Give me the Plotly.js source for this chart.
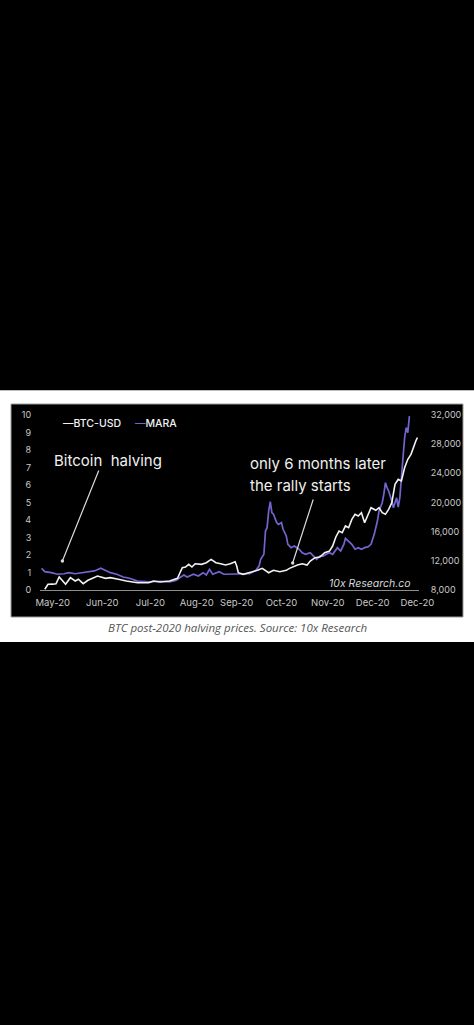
<!DOCTYPE html>
<html>
<head>
<meta charset="utf-8">
<script src="https://cdn.plot.ly/plotly-3.0.1.min.js"></script>
<style>
  html, body { margin: 0; padding: 0; background: #000; width: 474px; height: 1025px; overflow: hidden; }
  #band { position: absolute; left: 0; top: 390px; width: 474px; height: 251px; background: #fff; border-top: 1px solid #bbb; box-sizing: border-box; }
  #chart { position: absolute; left: 0; top: 0; width: 474px; height: 251px; }
</style>
</head>
<body>
<div id="band"><div id="chart"></div></div>
<script>
// ---- Data ----
const btcDates = ['2020-05-12','2020-05-14','2020-05-17','2020-05-19','2020-05-21','2020-05-25','2020-05-28','2020-05-31','2020-06-02','2020-06-05','2020-06-08','2020-06-13','2020-06-14','2020-06-19','2020-06-22','2020-06-27','2020-07-02','2020-07-09','2020-07-16','2020-07-19','2020-07-23','2020-07-29','2020-08-03','2020-08-05','2020-08-06','2020-08-08','2020-08-10','2020-08-12','2020-08-14','2020-08-18','2020-08-21','2020-08-24','2020-08-27','2020-08-30','2020-09-02','2020-09-05','2020-09-08','2020-09-09','2020-09-10','2020-09-13','2020-09-17','2020-09-22','2020-09-25','2020-09-29','2020-10-02','2020-10-06','2020-10-10','2020-10-12','2020-10-17','2020-10-20','2020-10-23','2020-10-25','2020-10-28','2020-10-31','2020-11-03','2020-11-06','2020-11-08','2020-11-10','2020-11-12','2020-11-14','2020-11-16','2020-11-18','2020-11-20','2020-11-22','2020-11-24','2020-11-26','2020-11-28','2020-11-30','2020-12-02','2020-12-05','2020-12-07','2020-12-09','2020-12-11','2020-12-13','2020-12-15','2020-12-17','2020-12-19','2020-12-21','2020-12-23','2020-12-25','2020-12-27','2020-12-30','2020-12-31'];
const btcUsd = [8100,8780,8800,8850,9780,8780,9690,9230,9470,8870,9330,9780,9920,9600,9690,9470,9230,9000,9000,9230,9100,9230,9600,10600,11060,11150,11520,11150,11600,11520,11750,12200,11750,11600,11430,11600,11880,11290,10370,10150,10370,10700,10970,10370,10700,10510,10700,10970,11430,11600,11430,11980,12430,12520,13110,13340,14030,15270,16090,15860,16780,16540,17690,18380,18150,18600,17230,18380,19290,18930,19290,18600,18380,19060,19970,22490,23180,22950,24770,25920,26600,28430,28890];

const maraDates = ['2020-05-10','2020-05-12','2020-05-16','2020-05-20','2020-05-24','2020-05-27','2020-05-31','2020-06-04','2020-06-08','2020-06-12','2020-06-16','2020-06-19','2020-06-22','2020-06-26','2020-06-30','2020-07-04','2020-07-09','2020-07-16','2020-07-23','2020-07-29','2020-08-02','2020-08-05','2020-08-07','2020-08-09','2020-08-13','2020-08-16','2020-08-19','2020-08-21','2020-08-23','2020-08-25','2020-08-29','2020-09-01','2020-09-05','2020-09-09','2020-09-13','2020-09-17','2020-09-21','2020-09-23','2020-09-24','2020-09-26','2020-09-27','2020-09-28','2020-09-29','2020-09-30','2020-10-01','2020-10-02','2020-10-04','2020-10-05','2020-10-07','2020-10-08','2020-10-10','2020-10-11','2020-10-13','2020-10-15','2020-10-18','2020-10-20','2020-10-22','2020-10-25','2020-10-27','2020-10-29','2020-10-31','2020-11-02','2020-11-04','2020-11-06','2020-11-08','2020-11-11','2020-11-13','2020-11-15','2020-11-16','2020-11-18','2020-11-20','2020-11-22','2020-11-24','2020-11-26','2020-11-28','2020-11-30','2020-12-02','2020-12-04','2020-12-06','2020-12-07','2020-12-09','2020-12-10','2020-12-11','2020-12-12','2020-12-13','2020-12-15','2020-12-16','2020-12-18','2020-12-19','2020-12-20','2020-12-21','2020-12-22','2020-12-23','2020-12-24','2020-12-25','2020-12-26'];
const mara = [1.24,1.05,0.99,0.90,0.93,0.99,0.93,0.99,1.05,1.09,1.24,1.13,0.99,0.90,0.74,0.67,0.51,0.47,0.50,0.47,0.55,0.74,0.86,0.74,0.90,0.80,0.99,0.86,1.18,0.90,1.05,0.90,0.90,0.90,0.90,0.93,1.13,1.37,1.75,2.04,3.37,3.56,4.51,5.05,4.42,4.33,3.85,3.75,3.85,3.47,3.09,2.61,2.42,2.51,2.33,2.13,2.04,2.13,1.94,1.75,1.94,1.94,2.04,2.13,2.04,2.42,2.23,2.60,2.95,2.80,2.61,2.33,2.42,2.33,2.42,2.46,2.61,3.18,3.94,4.51,4.99,5.47,6.13,5.85,5.66,5.09,4.70,5.27,4.74,5.27,6.23,7.56,8.70,9.28,8.99,9.94];

const xTickVals = ['2020-05-17','2020-06-17','2020-07-17','2020-08-15','2020-09-09','2020-10-07','2020-11-05','2020-12-03','2020-12-31'];
const xTickText = ['May-20','Jun-20','Jul-20','Aug-20','Sep-20','Oct-20','Nov-20','Dec-20','Dec-20'];
const leftTicks = [0,1,2,3,4,5,6,7,8,9,10];
const rightTicks = [8000,12000,16000,20000,24000,28000,32000];

const seriesNames = ['BTC-USD','MARA'];
const captionText = 'BTC post-2020 halving prices. Source: 10x Research';

// ---- Styling ----
const WHITE = '#f2f2f2';
const PURPLE = '#7165cf';
const TICK = '#c8c8c8';
const FONT = 'Inter, "DejaVu Sans", sans-serif';

const traces = [
  { x: btcDates, y: btcUsd, name: seriesNames[0], type: 'scatter', mode: 'lines', yaxis: 'y2',
    line: { color: WHITE, width: 1.6 }, showlegend: false },
  { x: maraDates, y: mara, name: seriesNames[1], type: 'scatter', mode: 'lines', yaxis: 'y',
    line: { color: PURPLE, width: 1.7 }, showlegend: false }
];

// plot area: left 40, right 419, top 414, bottom 589 (page px); band starts at 390
const PW = 379, PH = 175;
function px(x) { return (x - 40) / PW; }
function py(y) { return (589 - y) / PH; }

const layout = {
  width: 474, height: 251,
  margin: { l: 40, r: 55, t: 24, b: 52 },
  paper_bgcolor: '#ffffff',
  plot_bgcolor: '#000000',
  font: { family: FONT, color: TICK, size: 9 },
  xaxis: {
    type: 'date', range: ['2020-05-09', '2021-01-01'],
    tickmode: 'array', tickvals: xTickVals, ticktext: xTickText,
    showgrid: false, zeroline: false,
    showline: true, linecolor: '#8c8c8c', linewidth: 1,
    ticks: 'outside', ticklen: 4, tickcolor: 'rgba(0,0,0,0)',
    tickfont: { family: FONT, size: 9.5, color: TICK }, fixedrange: true
  },
  yaxis: {
    range: [0, 10], tickmode: 'array', tickvals: leftTicks,
    showgrid: false, zeroline: false, showline: false,
    ticks: 'outside', ticklen: 6, tickcolor: 'rgba(0,0,0,0)',
    tickfont: { family: FONT, size: 9, color: TICK }, fixedrange: true
  },
  yaxis2: {
    range: [8000, 32000], tickmode: 'array', tickvals: rightTicks, tickformat: ',d',
    overlaying: 'y', side: 'right',
    showgrid: false, zeroline: false, showline: false,
    ticks: 'outside', ticklen: 9, tickcolor: 'rgba(0,0,0,0)',
    tickfont: { family: FONT, size: 9, color: TICK }, fixedrange: true
  },
  shapes: [
    { type: 'rect', xref: 'paper', yref: 'paper', layer: 'below',
      x0: px(11), x1: px(463), y0: py(616), y1: py(403),
      fillcolor: '#000000', line: { color: '#9a9a9a', width: 1 } }
  ],
  annotations: [
    // legend
    { xref: 'paper', yref: 'paper', x: px(61), y: py(423), xanchor: 'left', yanchor: 'middle', showarrow: false,
      text: '<span style="color:' + WHITE + '">—</span>' + seriesNames[0] + '&nbsp;&nbsp;&nbsp;&nbsp; <span style="color:' + PURPLE + '">—</span>' + seriesNames[1],
      font: { family: FONT, size: 10.5, color: WHITE, weight: 500 } },
    // Bitcoin halving text
    { xref: 'paper', yref: 'paper', x: px(52), y: py(459), xanchor: 'left', yanchor: 'middle', showarrow: false,
      text: 'Bitcoin&nbsp; halving', font: { family: FONT, size: 15, color: '#f0f0f0' } },
    // arrow to halving
    { xref: 'x', yref: 'y', x: '2020-05-23', y: 1.66, ax: 37, ay: -92, text: '', showarrow: true,
      arrowhead: 6, arrowsize: 0.7, arrowwidth: 1.2, arrowcolor: '#dcdcdc' },
    // only 6 months later
    { xref: 'paper', yref: 'paper', x: px(248), y: py(462), xanchor: 'left', yanchor: 'middle', showarrow: false,
      text: 'only 6 months later', font: { family: FONT, size: 15, color: '#f0f0f0' } },
    { xref: 'paper', yref: 'paper', x: px(248), y: py(484), xanchor: 'left', yanchor: 'middle', showarrow: false,
      text: 'the rally starts', font: { family: FONT, size: 15, color: '#f0f0f0' } },
    // arrow to rally
    { xref: 'x', yref: 'y', x: '2020-10-14', y: 1.54, ax: 21, ay: -65, text: '', showarrow: true,
      arrowhead: 6, arrowsize: 0.7, arrowwidth: 1.2, arrowcolor: '#dcdcdc' },
    // watermark
    { xref: 'paper', yref: 'paper', x: px(413), y: py(582), xanchor: 'right', yanchor: 'middle', showarrow: false,
      text: '<i>10x Research.co</i>', font: { family: FONT, size: 10.5, color: '#d8d8d8' } },
    // caption
    { xref: 'paper', yref: 'paper', x: px(237), y: py(626), xanchor: 'center', yanchor: 'middle', showarrow: false,
      text: '<i>' + captionText + '</i>', font: { family: '"Open Sans", sans-serif', size: 11.5, color: '#555555' } }
  ]
};

Plotly.newPlot('chart', traces, layout, { displayModeBar: false, staticPlot: true });
</script>
</body>
</html>
